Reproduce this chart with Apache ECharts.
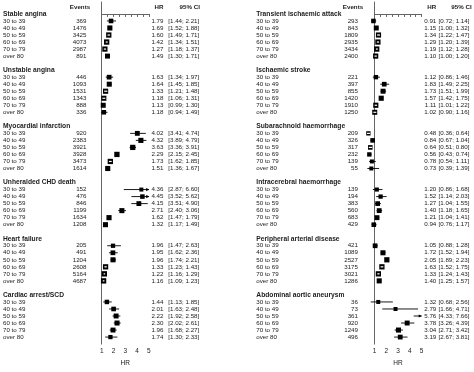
<!DOCTYPE html>
<html><head><meta charset="utf-8">
<script src="https://cdn.jsdelivr.net/npm/echarts@6/dist/echarts.min.js"></script>
<style>html,body{margin:0;padding:0;background:#fff}#c{width:474px;height:372px}</style>
</head><body><div id="c"></div>
<script>
const ageBands = ['30 to 39','40 to 49','50 to 59','60 to 69','70 to 79','over 80'];
const xTicks = [1, 2, 3, 4, 5];

const stableAnginaEvents = [369, 1476, 3425, 4073, 2987, 891];
const stableAnginaHR = [1.79, 1.69, 1.60, 1.42, 1.27, 1.49];
const stableAnginaLo = [1.44, 1.52, 1.49, 1.34, 1.18, 1.30];
const stableAnginaHi = [2.21, 1.88, 1.71, 1.51, 1.37, 1.71];

const unstableAnginaEvents = [446, 1093, 1531, 1343, 888, 336];
const unstableAnginaHR = [1.63, 1.64, 1.33, 1.18, 1.13, 1.18];
const unstableAnginaLo = [1.34, 1.45, 1.21, 1.06, 0.99, 0.94];
const unstableAnginaHi = [1.97, 1.85, 1.48, 1.31, 1.30, 1.49];

const miEvents = [920, 2383, 3921, 3928, 3473, 1614];
const miHR = [4.02, 4.32, 3.63, 2.29, 1.73, 1.51];
const miLo = [3.41, 3.89, 3.36, 2.15, 1.62, 1.36];
const miHi = [4.74, 4.79, 3.91, 2.45, 1.85, 1.67];

const chdDeathEvents = [152, 476, 846, 1199, 1634, 1208];
const chdDeathHR = [4.36, 4.45, 4.15, 2.71, 1.62, 1.32];
const chdDeathLo = [2.87, 3.52, 3.51, 2.40, 1.47, 1.17];
const chdDeathHi = [6.60, 5.62, 4.90, 3.06, 1.79, 1.49];

const heartFailureEvents = [205, 491, 1204, 2608, 5164, 4687];
const heartFailureHR = [1.96, 1.95, 1.96, 1.33, 1.22, 1.16];
const heartFailureLo = [1.47, 1.62, 1.74, 1.23, 1.16, 1.09];
const heartFailureHi = [2.63, 2.36, 2.21, 1.43, 1.29, 1.23];

const cardiacArrestEvents = [null, null, null, null, null, null];
const cardiacArrestHR = [1.44, 2.01, 2.22, 2.30, 1.96, 1.74];
const cardiacArrestLo = [1.13, 1.63, 1.92, 2.02, 1.68, 1.30];
const cardiacArrestHi = [1.85, 2.48, 2.58, 2.61, 2.27, 2.33];

const tiaEvents = [293, 843, 1809, 2935, 3434, 2400];
const tiaHR = [0.91, 1.15, 1.34, 1.29, 1.19, 1.10];
const tiaLo = [0.72, 1.00, 1.22, 1.20, 1.12, 1.00];
const tiaHi = [1.14, 1.32, 1.47, 1.39, 1.28, 1.20];

const ischStrokeEvents = [221, 397, 855, 1420, 1910, 1250];
const ischStrokeHR = [1.12, 1.83, 1.73, 1.57, 1.11, 1.02];
const ischStrokeLo = [0.86, 1.49, 1.51, 1.42, 1.01, 0.90];
const ischStrokeHi = [1.46, 2.25, 1.99, 1.75, 1.22, 1.16];

const sahEvents = [209, 326, 317, 232, 139, 55];
const sahHR = [0.48, 0.84, 0.64, 0.56, 0.78, 0.73];
const sahLo = [0.36, 0.67, 0.51, 0.43, 0.54, 0.39];
const sahHi = [0.64, 1.04, 0.80, 0.74, 1.11, 1.39];

const ichEvents = [139, 194, 383, 560, 683, 429];
const ichHR = [1.20, 1.52, 1.27, 1.40, 1.21, 0.94];
const ichLo = [0.86, 1.14, 1.04, 1.18, 1.04, 0.76];
const ichHi = [1.68, 2.03, 1.55, 1.65, 1.41, 1.17];

const padEvents = [421, 1089, 2527, 3175, 3021, 1286];
const padHR = [1.05, 1.72, 2.05, 1.63, 1.33, 1.40];
const padLo = [0.88, 1.52, 1.89, 1.52, 1.24, 1.25];
const padHi = [1.28, 1.94, 2.23, 1.75, 1.43, 1.57];

const aaaEvents = [36, 73, 361, 920, 1249, 496];
const aaaHR = [1.32, 2.79, 5.76, 3.78, 3.04, 3.19];
const aaaLo = [0.68, 1.66, 4.33, 3.26, 2.71, 2.67];
const aaaHi = [2.56, 4.71, 7.66, 4.39, 3.42, 3.81];

const leftOutcomes = [
  ['Stable angina', stableAnginaEvents, stableAnginaHR, stableAnginaLo, stableAnginaHi],
  ['Unstable angina', unstableAnginaEvents, unstableAnginaHR, unstableAnginaLo, unstableAnginaHi],
  ['Myocardial infarction', miEvents, miHR, miLo, miHi],
  ['Unheralded CHD death', chdDeathEvents, chdDeathHR, chdDeathLo, chdDeathHi],
  ['Heart failure', heartFailureEvents, heartFailureHR, heartFailureLo, heartFailureHi],
  ['Cardiac arrest/SCD', cardiacArrestEvents, cardiacArrestHR, cardiacArrestLo, cardiacArrestHi]
];
const rightOutcomes = [
  ['Transient ischaemic attack', tiaEvents, tiaHR, tiaLo, tiaHi],
  ['Ischaemic stroke', ischStrokeEvents, ischStrokeHR, ischStrokeLo, ischStrokeHi],
  ['Subarachnoid haemorrhage', sahEvents, sahHR, sahLo, sahHi],
  ['Intracerebral haemorrhage', ichEvents, ichHR, ichLo, ichHi],
  ['Peripheral arterial disease', padEvents, padHR, padLo, padHi],
  ['Abdominal aortic aneurysm', aaaEvents, aaaHR, aaaLo, aaaHi]
];

const XMIN = 1, XMAX = 5;
const FONT = '"Liberation Sans", Arial, Helvetica, sans-serif';
const FS = 6.2;
const FSH = 6.7;
const TXT = '#222';

function buildRows(outcomes) {
  const rows = [{kind: 'colhead', row: -1}];
  outcomes.forEach((o, g) => {
    rows.push({kind: 'group', row: g * 8, label: o[0]});
    for (let i = 0; i < ageBands.length; i++) {
      rows.push({kind: 'item', row: g * 8 + 1 + i, label: ageBands[i],
        events: o[1][i], hr: o[2][i], lo: o[3][i], hi: o[4][i]});
    }
  });
  return rows;
}
const leftRows = buildRows(leftOutcomes);
const rightRows = buildRows(rightOutcomes);

function txt(text, x, y, align, bold, size) {
  return {type: 'text', silent: true, style: {text: text, x: x, y: y, align: align, verticalAlign: 'middle',
    fontSize: size || FS, fontFamily: FONT, fontWeight: bold ? 'bold' : 'normal', fill: TXT}};
}

function makeRender(rows, cols) {
  return function (params, api) {
    const r = rows[params.dataIndex];
    const y = api.coord([XMIN, r.row])[1];
    const ch = [];
    if (r.kind === 'colhead') {
      ch.push(txt('Events', cols.evHead, y, 'center', true));
      ch.push(txt('HR', cols.hr, y, 'right', true));
      ch.push(txt('95% CI', cols.ciHead, y, 'center', true));
    } else if (r.kind === 'group') {
      ch.push(txt(r.label, cols.label, y, 'left', true, FSH));
    } else {
      ch.push(txt(r.label, cols.label, y, 'left', false));
      if (r.events != null) ch.push(txt(String(r.events), cols.ev, y, 'right', false));
      ch.push(txt(r.hr.toFixed(2), cols.hr, y, 'right', false));
      ch.push(txt('[' + r.lo.toFixed(2) + '; ' + r.hi.toFixed(2) + ']', cols.ci, y, 'left', false));
      const x1 = api.coord([r.lo, r.row])[0];
      const x2 = api.coord([Math.min(r.hi, XMAX), r.row])[0];
      ch.push({type: 'line', silent: true, shape: {x1: x1, y1: y, x2: x2, y2: y},
        style: {stroke: '#000', lineWidth: 0.9}});
      if (r.hi > XMAX) {
        ch.push({type: 'polygon', silent: true, shape: {points: [[x2 + 0.5, y], [x2 - 2.8, y - 1.6], [x2 - 2.8, y + 1.6]]},
          style: {fill: '#000'}});
      }
      if (r.hr <= XMAX) {
        const cx = api.coord([r.hr, r.row])[0];
        const lw = Math.log(r.hi / r.lo);
        const s = 4.0 + 1.6 * (1 - Math.min(1, lw / 0.7));
        ch.push({type: 'rect', silent: true, shape: {x: cx - s / 2, y: y - s / 2, width: s, height: s},
          style: {fill: '#000'}});
        if (x2 - x1 < 3.5) {
          ch.push({type: 'rect', silent: true, shape: {x: x1, y: y - 0.6, width: x2 - x1, height: 1.2},
            style: {fill: '#fff'}});
        }
      }
    }
    return {type: 'group', children: ch};
  };
}

const leftCols = {label: 3, ev: 86.5, evHead: 80, hr: 163.5, ci: 168.3, ciHead: 189.7};
const rightCols = {label: 256.3, ev: 358, evHead: 353, hr: 436.3, ci: 438.5, ciHead: 461.5};

function xAxisCfg(gi) {
  return {
    type: 'value', gridIndex: gi, min: XMIN, max: XMAX, interval: 0.5,
    name: 'HR', nameLocation: 'middle', nameGap: 11,
    nameTextStyle: {fontSize: 6.5, fontFamily: FONT, color: TXT},
    axisLine: {show: true, lineStyle: {color: '#666', width: 1}},
    axisTick: {show: true, length: 3, lineStyle: {color: '#666', width: 1}},
    axisLabel: {fontSize: 6.5, fontFamily: FONT, color: TXT, margin: 4,
      formatter: v => (xTicks.indexOf(v) >= 0 ? String(v) : '')},
    splitLine: {show: false}
  };
}
function yAxisCfg(gi) {
  return {
    type: 'value', gridIndex: gi, inverse: true, min: -1.7, max: 47,
    axisLine: {show: true, lineStyle: {color: '#666', width: 1}},
    axisTick: {show: false}, axisLabel: {show: false}, splitLine: {show: false}
  };
}

const chart = echarts.init(document.getElementById('c'), null, {renderer: 'canvas'});
chart.setOption({
  animation: false,
  backgroundColor: '#fff',
  grid: [
    {left: 101.7, width: 47.2, top: 2, height: 350.5},
    {left: 374.5, width: 47, top: 2, height: 350.5}
  ],
  xAxis: [xAxisCfg(0), xAxisCfg(1)],
  yAxis: [yAxisCfg(0), yAxisCfg(1)],
  series: [
    {type: 'custom', xAxisIndex: 0, yAxisIndex: 0, clip: false,
      renderItem: makeRender(leftRows, leftCols),
      data: leftRows.map(r => [r.kind === 'item' ? Math.min(r.hr, XMAX) : XMIN, r.row])},
    {type: 'custom', xAxisIndex: 1, yAxisIndex: 1, clip: false,
      renderItem: makeRender(rightRows, rightCols),
      data: rightRows.map(r => [r.kind === 'item' ? Math.min(r.hr, XMAX) : XMIN, r.row])}
  ]
});
</script>
</body></html>
